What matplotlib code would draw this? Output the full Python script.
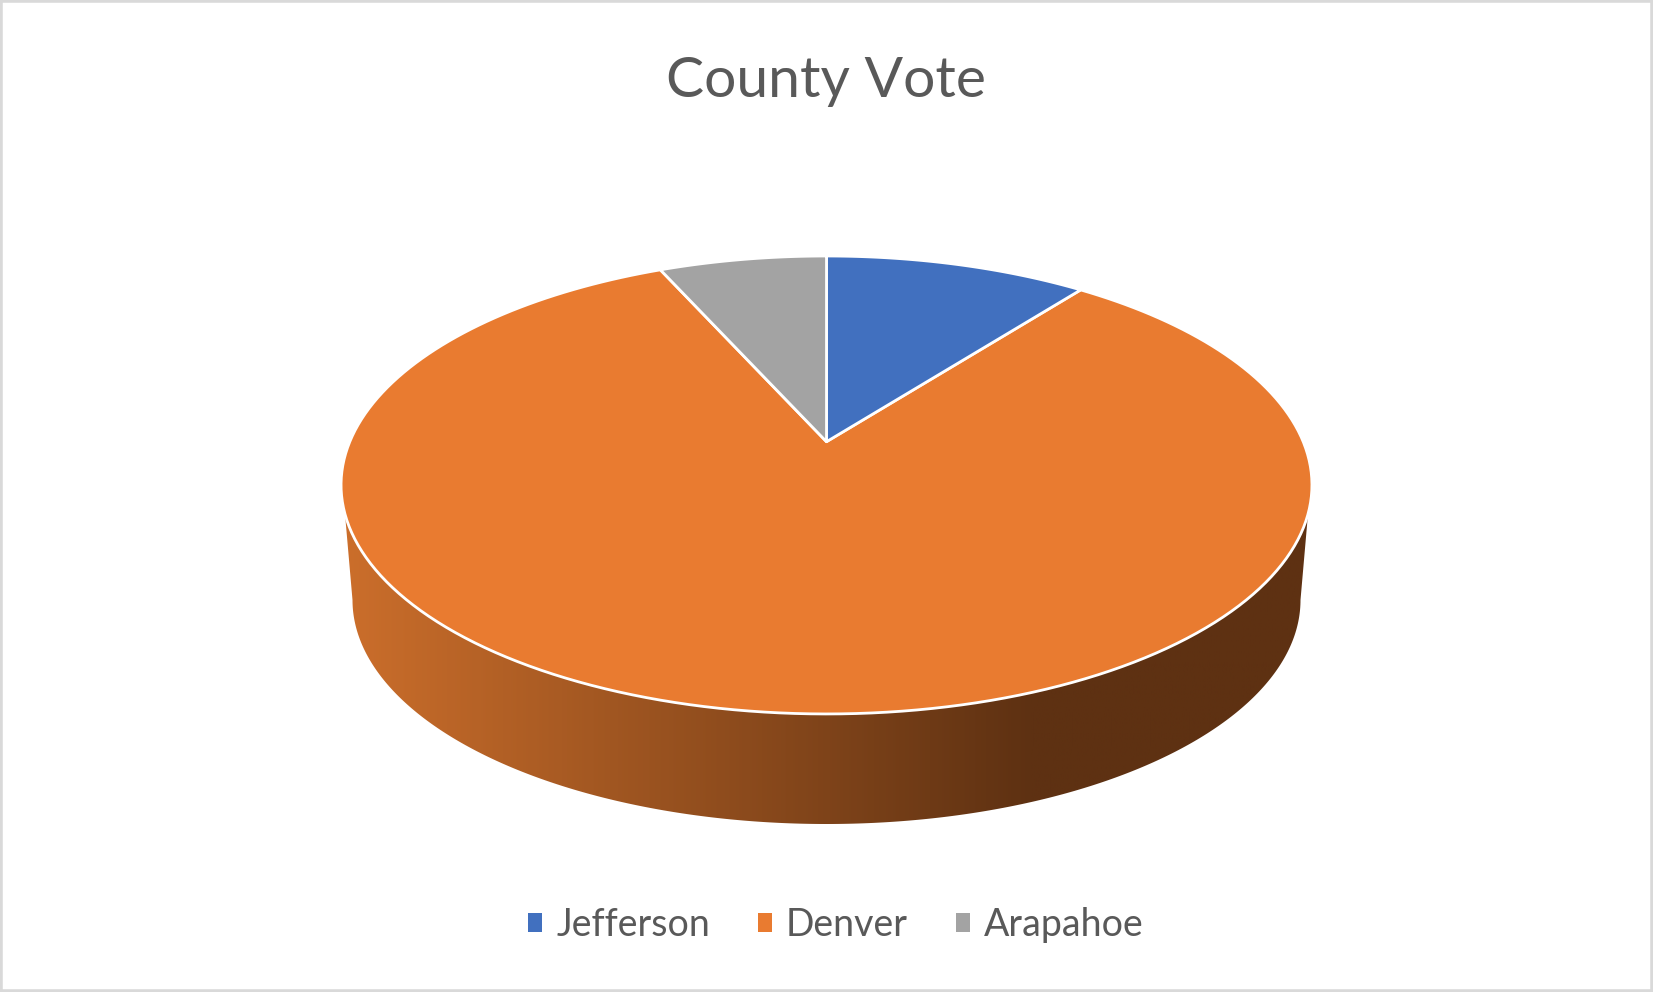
import matplotlib
matplotlib.use("Agg")
import matplotlib.pyplot as plt
import numpy as np
from matplotlib.colors import LinearSegmentedColormap
from matplotlib.patches import Patch, Polygon, Rectangle

plt.rcParams['font.family'] = ['Lato', 'DejaVu Sans']

counties = ["Jefferson", "Denver", "Arapahoe"]
votes = [10.5, 82.8, 6.7]
colors = ["#4170BF", "#E97B30", "#A3A3A3"]
text_color = "#595959"

# pie geometry in pixels
cx, apex_y = 826.5, 441.7
persp, ry_k, rx_k = 0.189, 220.8, 476.7
wall_y, wall_rx, wall_ry, wall_top = 600, 474, 224, 513


def project(theta):
    # theta clockwise from 12 o'clock, tilted disc with some perspective
    x, y = np.sin(theta), np.cos(theta)
    w = 1 + persp * y
    return cx + rx_k * x / w, apex_y - ry_k * y / w


fig = plt.figure(figsize=(16.53, 9.92), dpi=100)
ax = fig.add_axes([0, 0, 1, 1])

# side wall with the dark gradient
t = np.linspace(0, 2 * np.pi, 721)
rim_x, rim_y = project(t)
front = rim_y >= wall_top
order = np.argsort(rim_x[front])
low = np.linspace(0, np.pi, 300)
wall = np.vstack([
    np.column_stack([rim_x[front][order], rim_y[front][order]]),
    np.column_stack([cx + wall_rx * np.cos(low), wall_y + wall_ry * np.sin(low)]),
])
wall_cmap = LinearSegmentedColormap.from_list("wall", ["#CB6E2B", "#5E3112"])
grad = np.clip((np.linspace(340, 1315, 400) - 345) / (1033 - 345), 0, 1).reshape(1, -1)
img = ax.imshow(grad, extent=[340, 1315, 830, 500], cmap=wall_cmap, aspect="auto", vmin=0, vmax=1)
img.set_clip_path(Polygon(wall, closed=True, transform=ax.transData))

# top face
edges = np.cumsum([0] + votes) / np.sum(votes) * 2 * np.pi
for i in [1, 0, 2]:
    th = np.linspace(edges[i], edges[i + 1], 200)
    px, py = project(th)
    pts = np.column_stack([np.r_[cx, px], np.r_[apex_y, py]])
    ax.add_patch(Polygon(pts, closed=True, facecolor=colors[i], edgecolor="white", linewidth=2.0,
                         joinstyle="round", zorder=3))

ax.set_xlim(0, 1653)
ax.set_ylim(992, 0)
ax.axis("off")

ax.text(826.5, 97, "County Vote", color=text_color, fontsize=41, ha="center", va="baseline")

handles = [Patch(facecolor=c, edgecolor="none") for c in colors]
ax.legend(handles, counties, ncol=3, loc="center", bbox_to_anchor=(836 / 1653, 1 - 925 / 992),
          frameon=False, fontsize=27, labelcolor=text_color, handlelength=0.373, handleheight=0.373,
          handletextpad=0.37, columnspacing=1.28, borderpad=0, borderaxespad=0)

# chart border
fig.add_artist(Rectangle((0, 0), 1, 1, transform=fig.transFigure, fill=False,
                         edgecolor="#D9D9D9", linewidth=4))

fig.savefig("out.png", dpi=100)
